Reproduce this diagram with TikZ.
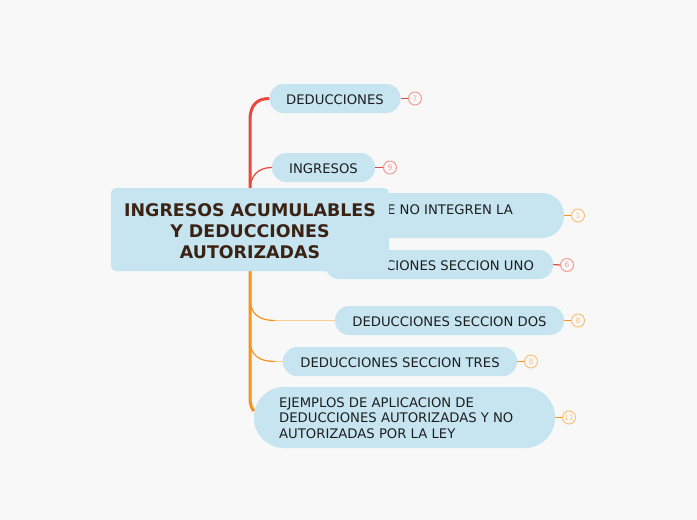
\documentclass[tikz,border=0pt]{standalone}
\usepackage{fontspec}
\setmainfont{DejaVu Sans}
\begin{document}
\begin{tikzpicture}[x=1pt,y=-1pt,
  pill/.style={fill=pillblue, rounded corners=#1, inner sep=0pt},
  lbl/.style={font=\fontsize{13.2}{15}\selectfont, text=txt, inner sep=0pt},
  numR/.style={circle, draw=numred, fill=bg, line width=1pt, minimum size=13pt, inner sep=0pt, text=numred, font=\fontsize{7.5}{8}\selectfont},
  numO/.style={circle, draw=numor, fill=bg, line width=1pt, minimum size=13pt, inner sep=0pt, text=numor, font=\fontsize{7.5}{8}\selectfont},
  redl/.style={draw=redc, line width=1.2pt},
  orl/.style={draw=orc, line width=1.2pt},
  orlight/.style={draw=orlt, line width=1pt}
]
\definecolor{bg}{HTML}{F8F8F8}
\definecolor{pillblue}{HTML}{C6E5F0}
\definecolor{txt}{HTML}{1E1E1E}
\definecolor{title}{HTML}{3A2314}
\definecolor{redc}{HTML}{E8493C}
\definecolor{orc}{HTML}{F7941D}
\definecolor{orlt}{HTML}{FCCB8E}
\definecolor{numred}{HTML}{F2A097}
\definecolor{numor}{HTML}{FBC27A}
\fill[bg] (0,0) rectangle (697,520);
\useasboundingbox (0,0) rectangle (697,520);

% pills
\node[pill=14pt, minimum width=131pt, minimum height=29pt] (n1) at (335,98.5) {};
\node[lbl] (t1) at (335,99.5) {DEDUCCIONES};
\node[pill=14pt, minimum width=103pt, minimum height=29pt] (n2) at (323.5,167.5) {};
\node[lbl] (t2) at (323.5,168.5) {INGRESOS};
\node[pill=22pt, minimum width=234pt, minimum height=45pt] (n3) at (447,215.5) {};
\node[lbl, anchor=west] (t3) at (387,210) {E NO INTEGREN LA};
\node[pill=14pt, minimum width=228pt, minimum height=29pt] (n4) at (439,264.5) {};
\node[lbl, anchor=west] (t4) at (386,265.5) {CIONES SECCION UNO};
\node[pill=14pt, minimum width=229pt, minimum height=29pt] (n5) at (449.5,320.5) {};
\node[lbl] (t5) at (449.5,321.5) {DEDUCCIONES SECCION DOS};
\node[pill=14pt, minimum width=234pt, minimum height=29pt] (n6) at (400,361.5) {};
\node[lbl] (t6) at (400,362.5) {DEDUCCIONES SECCION TRES};
\node[pill=30pt, minimum width=301pt, minimum height=61pt] (n7) at (404.5,417.5) {};
\node[lbl, anchor=west, align=left, font=\fontsize{13.2}{15.5}\selectfont] (t7) at (279,418) {EJEMPLOS DE APLICACION DE\\DEDUCCIONES AUTORIZADAS Y NO\\AUTORIZADAS POR LA LEY};

% number badges
\node[numR] (c1) at (415,98.5) {7};
\node[numR] (c2) at (390,167.5) {9};
\node[numO] (c3) at (578,215.5) {1};
\node[numR] (c4) at (567,265) {6};
\node[numO] (c5) at (578,320.5) {8};
\node[numO] (c6) at (531,361.5) {8};
\node[numO] (c7) at (569,417.5) {11};
\draw[redl] (n1.east) -- (c1.west);
\draw[redl] (n2.east) -- (c2.west);
\draw[orl] (n3.east) -- (c3.west);
\draw[redl] (n4.east) -- (c4.west);
\draw[orl] (n5.east) -- (c5.west);
\draw[orl] (n6.east) -- (c6.west);
\draw[orl] (n7.east) -- (c7.west);

% trunk and branches
\coordinate (tr1) at (250,240);
\coordinate (tr2) at (250,235);
\coordinate (b5) at (275,320.5);
\coordinate (b6) at (275,361.5);
\draw[draw=redc, line width=3pt] (tr1) -- (250,120) .. controls (250,104) and (258,98.5) .. (n1.west);
\draw[redl] (250,190) .. controls (250,176) and (258,167.5) .. (n2.west);
\draw[draw=orc, line width=3pt] (tr2) -- (250,398) .. controls (250,405) and (252,409) .. (254,411);
\draw[orl] (250,298) .. controls (250,315) and (260,320.5) .. (b5);
\draw[orlight] (b5) -- (n5.west);
\draw[orl] (250,340) .. controls (250,356) and (260,361.5) .. (b6);
\draw[orlight] (b6) -- (n6.west);

% central
\node[fill=pillblue, rounded corners=5pt, minimum width=278pt, minimum height=83pt, inner sep=0pt] (c) at (250,229.5) {};
\node[text=title, font=\bfseries\fontsize{17.4}{21}\selectfont, align=center, inner sep=0pt] (ct) at (250,231) {INGRESOS ACUMULABLES\\Y DEDUCCIONES\\AUTORIZADAS};
\end{tikzpicture}
\end{document}
